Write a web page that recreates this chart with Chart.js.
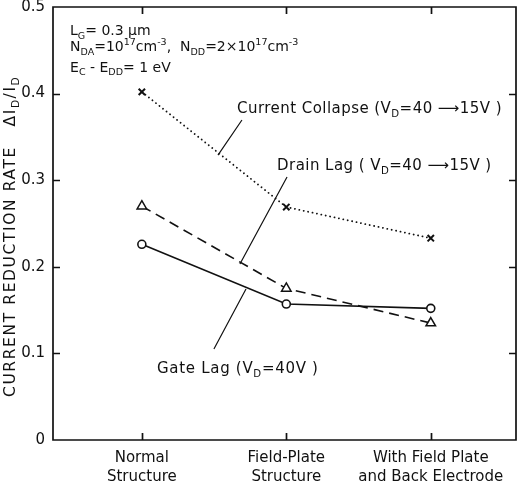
<!DOCTYPE html>
<html>
<head>
<meta charset="utf-8">
<script src="https://cdn.jsdelivr.net/npm/chart.js@4.4.0/dist/chart.umd.min.js"></script>
<style>
    html, body { margin: 0; padding: 0; background: #fff; }
    #wrap { width: 520px; height: 486px; position: relative; }
</style>
</head>
<body>
<div id="wrap"><canvas id="chart" width="520" height="486"></canvas></div>
<script>
// Chart values
const categories = [
    ['Normal', 'Structure'],
    ['Field-Plate', 'Structure'],
    ['With Field Plate', 'and Back Electrode']
];
const categoryPos = [0, 1, 2];
const currentCollapse = [0.402, 0.269, 0.233];
const drainLag = [0.270, 0.175, 0.135];
const gateLag = [0.226, 0.157, 0.152];
const yTicks = [0, 0.1, 0.2, 0.3, 0.4, 0.5];

const FONT = '"DejaVu Sans", sans-serif';
const INK = '#111';

// annotation anchors, in data units (x = category position, y = reduction rate)
const notes = {
    params: { x: -0.497, y: [0.4671, 0.4492, 0.4255] },
    collapse: { x: 0.659, y: 0.3776, leader: [[0.693, 0.3695], [0.527, 0.329]] },
    drain: { x: 0.936, y: 0.3118, leader: [[1.005, 0.3037], [0.679, 0.2032]] },
    gate: { x: 0.105, y: 0.0774, leader: [[0.721, 0.1744], [0.499, 0.105]] }
};

/**
 * Draw text with sub / superscript parts, returns the width drawn
 */
function drawRich(ctx, x, y, parts, size) {
    let cx = x;
    parts.forEach(p => {
        const text = typeof p === 'string' ? p : p[0];
        const mode = typeof p === 'string' ? '' : p[1];
        const s = mode ? size * 0.68 : size;
        const dy = mode === 'sub' ? size * 0.28 : mode === 'sup' ? -size * 0.42 : 0;
        ctx.font = s + 'px ' + FONT;
        ctx.fillText(text, cx, y + dy);
        cx += ctx.measureText(text).width;
    });
    return cx - x;
}

const frameAndNotes = {
    id: 'frameAndNotes',
    afterDraw(chart) {
        const ctx = chart.ctx;
        const area = chart.chartArea;
        const xs = chart.scales.x;
        const ys = chart.scales.y;
        const px = v => xs.getPixelForValue(v);
        const py = v => ys.getPixelForValue(v);

        ctx.save();
        ctx.setLineDash([]);
        ctx.strokeStyle = INK;
        ctx.fillStyle = INK;
        ctx.lineWidth = 1.7;
        ctx.lineCap = 'butt';

        // frame
        ctx.beginPath();
        ctx.moveTo(area.left, area.top);
        ctx.lineTo(area.right, area.top);
        ctx.lineTo(area.right, area.bottom);
        ctx.lineTo(area.left, area.bottom);
        ctx.closePath();
        ctx.stroke();

        // inward tick marks on all four sides
        const tl = 7;
        ctx.beginPath();
        yTicks.slice(1, -1).forEach(v => {
            const y = Math.round(py(v)) + 0.5;
            ctx.moveTo(area.left, y); ctx.lineTo(area.left + tl, y);
            ctx.moveTo(area.right, y); ctx.lineTo(area.right - tl, y);
        });
        categoryPos.forEach(v => {
            const x = Math.round(px(v)) + 0.5;
            ctx.moveTo(x, area.bottom); ctx.lineTo(x, area.bottom - tl);
            ctx.moveTo(x, area.top); ctx.lineTo(x, area.top + tl);
        });
        ctx.stroke();

        // leader lines
        ctx.lineWidth = 1.2;
        ctx.beginPath();
        [notes.collapse, notes.drain, notes.gate].forEach(n => {
            ctx.moveTo(px(n.leader[0][0]), py(n.leader[0][1]));
            ctx.lineTo(px(n.leader[1][0]), py(n.leader[1][1]));
        });
        ctx.stroke();

        ctx.textBaseline = 'alphabetic';
        ctx.textAlign = 'left';

        // parameter block
        ctx.letterSpacing = '0px';
        const pxl = px(notes.params.x);
        drawRich(ctx, pxl, py(notes.params.y[0]), ['L', ['G', 'sub'], '= 0.3 µm'], 14);
        drawRich(ctx, pxl, py(notes.params.y[1]), ['N', ['DA', 'sub'], '=10', ['17', 'sup'], 'cm', ['-3', 'sup'], ',  N', ['DD', 'sub'], '=2×10', ['17', 'sup'], 'cm', ['-3', 'sup']], 14);
        drawRich(ctx, pxl, py(notes.params.y[2]), ['E', ['C', 'sub'], ' - E', ['DD', 'sub'], '= 1 eV'], 14);

        // series notes
        ctx.letterSpacing = '0.45px';
        drawRich(ctx, px(notes.collapse.x), py(notes.collapse.y), ['Current Collapse (V', ['D', 'sub'], '=40 ⟶15V )'], 15);
        drawRich(ctx, px(notes.drain.x), py(notes.drain.y), ['Drain Lag ( V', ['D', 'sub'], '=40 ⟶15V )'], 15);
        ctx.letterSpacing = '0.7px';
        drawRich(ctx, px(notes.gate.x), py(notes.gate.y), ['Gate Lag (V', ['D', 'sub'], '=40V )'], 15);

        // rotated y axis title, reading upward from near the bottom of the frame
        ctx.letterSpacing = '1.6px';
        const titleParts = ['CURRENT REDUCTION RATE   ΔI', ['D', 'sub'], '/I', ['D', 'sub']];
        ctx.translate(15, area.bottom - 43);
        ctx.rotate(-Math.PI / 2);
        drawRich(ctx, 0, 0, titleParts, 15.5);

        ctx.restore();
    }
};

function pointsOf(values) {
    return values.map((v, i) => ({ x: categoryPos[i], y: v }));
}

const ctx = document.getElementById('chart').getContext('2d');
new Chart(ctx, {
    type: 'scatter',
    data: {
        datasets: [
            {
                label: 'Current Collapse',
                data: pointsOf(currentCollapse),
                showLine: true,
                borderColor: INK,
                borderWidth: 1.8,
                borderDash: [0.1, 4.4],
                borderCapStyle: 'round',
                pointStyle: 'crossRot',
                pointRadius: 4.5,
                pointBorderWidth: 2,
                pointBorderColor: INK,
                pointBackgroundColor: INK
            },
            {
                label: 'Drain Lag',
                data: pointsOf(drainLag),
                showLine: true,
                borderColor: INK,
                borderWidth: 1.6,
                borderDash: [10, 6],
                pointStyle: 'triangle',
                pointRadius: 5.5,
                pointBorderWidth: 1.5,
                pointBorderColor: INK,
                pointBackgroundColor: '#fff'
            },
            {
                label: 'Gate Lag',
                data: pointsOf(gateLag),
                showLine: true,
                borderColor: INK,
                borderWidth: 1.6,
                pointStyle: 'circle',
                pointRadius: 4,
                pointBorderWidth: 1.6,
                pointBorderColor: INK,
                pointBackgroundColor: '#fff'
            }
        ]
    },
    options: {
        responsive: false,
        animation: false,
        devicePixelRatio: 1,
        layout: { autoPadding: false, padding: { top: 7, right: 4, left: 0, bottom: 0 } },
        plugins: {
            legend: { display: false },
            tooltip: { enabled: false }
        },
        scales: {
            x: {
                type: 'linear',
                min: -0.615,
                max: 2.59,
                afterFit: scale => {
                    scale.height = 46;
                    scale.paddingLeft = 0;
                    scale.paddingRight = 0;
                },
                afterBuildTicks: scale => {
                    scale.ticks = categoryPos.map(v => ({ value: v }));
                },
                grid: { display: false, drawTicks: false },
                border: { display: false },
                ticks: {
                    color: INK,
                    padding: 9,
                    maxRotation: 0,
                    autoSkip: false,
                    font: { family: FONT, size: 15, lineHeight: 1.25 },
                    callback: (value) => categories[categoryPos.indexOf(value)] || ''
                }
            },
            y: {
                min: 0,
                max: 0.5,
                afterFit: scale => {
                    scale.width = 53;
                    scale.paddingTop = 0;
                    scale.paddingBottom = 0;
                },
                afterBuildTicks: scale => {
                    scale.ticks = yTicks.map(v => ({ value: v }));
                },
                grid: { display: false, drawTicks: false },
                border: { display: false },
                ticks: {
                    color: INK,
                    padding: 8,
                    font: { family: FONT, size: 15 },
                    callback: value => value === 0 ? '0' : value.toFixed(1)
                }
            }
        }
    },
    plugins: [frameAndNotes]
});
</script>
</body>
</html>
